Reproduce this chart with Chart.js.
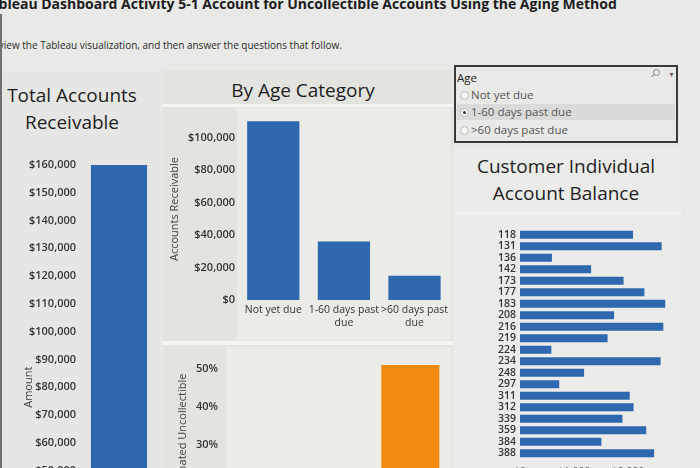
<!DOCTYPE html>
<html>
<head>
<meta charset="utf-8">
<script src="https://cdn.jsdelivr.net/npm/chart.js@4.4.0/dist/chart.umd.min.js"></script>
<style>
  html, body { margin: 0; padding: 0; }
  body {
    width: 700px; height: 468px; overflow: hidden; position: relative;
    background: #e9e9e7; font-family: "Open Sans", sans-serif; color: #222;
  }
  .abs { position: absolute; }
  #pageTitle { left: -18px; top: -6px; font-size: 14px; font-weight: bold; white-space: nowrap; color: #1c1c1c; }
  #pageSub { left: -13px; top: 38px; font-size: 10px; white-space: nowrap; color: #2a2a2a; }
  #edge { left: 0; top: 14px; width: 2px; height: 460px; background: #707070; }
  #leftPanel { left: 2px; top: 72px; width: 159px; height: 400px; background: #e6e6e4; }
  #midPanel { left: 163px; top: 70px; width: 290px; height: 400px; background: #e3e3e0; }
  #midPlot { left: 237px; top: 108px; width: 214px; height: 232px; background: #ebebe8; }
  #midPlot2 { left: 226px; top: 347px; width: 225px; height: 125px; background: #ebebe8; }
  .divider { background: #f4f4f2; }
  #rightPanel { left: 455px; top: 147px; width: 226px; height: 330px; background: #ebebe9; }
  .title { text-align: center; font-size: 19px; line-height: 27px; color: #1e1e1e; }
  #ageBox {
    left: 454px; top: 65px; width: 224px; height: 78px; box-sizing: border-box;
    border: 2px solid #3a3a3a; background: #e9e9e7; font-size: 11.5px;
  }
  #ageBox .head { position: absolute; left: 1px; top: 3px; color: #222; }
  #ageBox .opt { position: absolute; left: 1px; right: 1px; height: 16px; line-height: 16px; color: #555; padding-left: 14px; }
  #ageBox .sel { background: #dadad8; }
  #ageBox .radio {
    position: absolute; left: 3px; top: 4px; width: 7px; height: 7px; border-radius: 50%;
    border: 1px solid #bdbdbd; background: #f3f3f3;
  }
  #ageBox .radio.on::after {
    content: ""; position: absolute; left: 2px; top: 2px; width: 3px; height: 3px; border-radius: 50%; background: #333;
  }
  #lens { left: 653px; top: 69px; width: 5px; height: 5px; border: 1px solid #888; border-radius: 50%; }
  #lensTail { left: 651px; top: 75px; width: 4px; height: 1px; background: #888; transform: rotate(-45deg); }
  #arrow { left: 668px; top: 70px; font-size: 7px; color: #666; }
  canvas { position: absolute; }
</style>
</head>
<body>
<div id="pageTitle" class="abs">Tableau Dashboard Activity 5-1 Account for Uncollectible Accounts Using the Aging Method</div>
<div id="pageSub" class="abs">Review the Tableau visualization, and then answer the questions that follow.</div>
<div id="edge" class="abs"></div>

<div id="leftPanel" class="abs"></div>
<div id="midPanel" class="abs"></div>
<div id="midPlot" class="abs"></div>
<div id="midPlot2" class="abs"></div>
<div class="abs divider" style="left:163px;top:104px;width:290px;height:3px"></div>
<div class="abs divider" style="left:163px;top:341px;width:290px;height:4px"></div>
<div id="rightPanel" class="abs"></div>
<div class="abs divider" style="left:455px;top:212px;width:226px;height:2px"></div>

<div class="abs title" style="left:2px;top:82px;width:140px">Total Accounts<br>Receivable</div>
<div class="abs title" style="left:163px;top:77px;width:280px">By Age Category</div>
<div class="abs title" style="left:455px;top:153px;width:222px">Customer Individual<br>Account Balance</div>

<div id="ageBox" class="abs">
  <div class="head">Age</div>
  <div class="opt" style="top:20px"><span class="radio"></span>Not yet due</div>
  <div class="opt sel" style="top:37px"><span class="radio on"></span>1-60 days past due</div>
  <div class="opt" style="top:55px"><span class="radio"></span>&gt;60 days past due</div>
</div>
<div id="lens" class="abs"></div>
<div id="lensTail" class="abs"></div>
<div id="arrow" class="abs">&#9660;</div>

<canvas id="totalChart" width="158" height="468" style="left:0;top:152px"></canvas>
<canvas id="ageChart" width="292" height="230" style="left:160px;top:105px"></canvas>
<canvas id="pctChart" width="292" height="330" style="left:160px;top:339px"></canvas>
<canvas id="customerChart" width="215" height="268" style="left:460px;top:215px"></canvas>

<script>
// values
const totalLabels = ["Total"];
const totalAmounts = [161000];
const totalTicks = [0, 10000, 20000, 30000, 40000, 50000, 60000, 70000, 80000,
  90000, 100000, 110000, 120000, 130000, 140000, 150000, 160000];

const ageLabels = ["Not yet due", ["1-60 days past", "due"], [">60 days past", "due"]];
const ageAmounts = [110000, 36000, 15000];
const ageTicks = [0, 20000, 40000, 60000, 80000, 100000];

const pctValues = [2, 10, 51];
const pctTicks = [0, 10, 20, 30, 40, 50];

const customerIds = ["118", "131", "136", "142", "173", "177", "183", "208", "216", "219",
  "224", "234", "248", "297", "311", "312", "339", "359", "384", "388"];
const customerBalances = [2090, 2620, 590, 1315, 1915, 2300, 2685, 1740, 2650, 1620,
  580, 2600, 1185, 725, 2030, 2100, 1895, 2335, 1505, 2480];
const balanceTicks = [0, 1000, 2000];

const BLUE = "#2f68ae";
const ORANGE = "#f08a10";

Chart.defaults.font.family = "'Open Sans', sans-serif";
Chart.defaults.color = "#333";

const tickFont = { size: 11, weight: "600" };
const titleFont = { size: 11 };

function money(v) {
  return "$" + Number(v).toLocaleString("en-US");
}

function fixedTicks(list) {
  return function (axis) {
    axis.ticks = list.map(v => ({ value: v }));
  };
}

const basePlugins = { legend: { display: false }, tooltip: { enabled: false } };

new Chart(document.getElementById("totalChart"), {
  type: "bar",
  data: {
    labels: totalLabels,
    datasets: [{ data: totalAmounts, backgroundColor: BLUE, barPercentage: 0.72, categoryPercentage: 1 }],
  },
  options: {
    responsive: false,
    animation: false,
    devicePixelRatio: 1,
    layout: { padding: { top: 13, bottom: 2, right: 0 } },
    scales: {
      x: { display: false },
      y: {
        min: 0,
        max: 160000,
        afterBuildTicks: fixedTicks(totalTicks),
        afterFit: axis => { axis.width = 80; },
        grid: { display: false, drawTicks: false },
        border: { display: false },
        ticks: { font: tickFont, color: "#333", padding: 4, callback: v => money(v) },
        title: { display: true, text: "Amount", font: titleFont, color: "#444", padding: { top: 22, bottom: 0 } },
      },
    },
    plugins: basePlugins,
  },
});

new Chart(document.getElementById("ageChart"), {
  type: "bar",
  data: {
    labels: ageLabels,
    datasets: [{ data: ageAmounts, backgroundColor: BLUE, barPercentage: 0.74, categoryPercentage: 1 }],
  },
  options: {
    responsive: false,
    animation: false,
    devicePixelRatio: 1,
    layout: { padding: { top: 13, right: 0 } },
    scales: {
      x: {
        afterFit: axis => { axis.height = 35; },
        grid: { display: false, drawTicks: false },
        border: { display: false },
        ticks: { font: { size: 10.5 }, color: "#333", padding: 4, maxRotation: 0, autoSkip: false },
      },
      y: {
        min: 0,
        max: 112000,
        afterBuildTicks: fixedTicks(ageTicks),
        afterFit: axis => { axis.width = 78; },
        grid: { display: false, drawTicks: false },
        border: { display: false },
        ticks: { font: tickFont, color: "#333", padding: 3, callback: v => money(v) },
        title: { display: true, text: "Accounts Receivable", font: titleFont, color: "#444", padding: { top: 8, bottom: 0 } },
      },
    },
    plugins: basePlugins,
  },
});

new Chart(document.getElementById("pctChart"), {
  type: "bar",
  data: {
    labels: ageLabels,
    datasets: [{ data: pctValues, backgroundColor: ORANGE, barPercentage: 0.77, categoryPercentage: 1 }],
  },
  options: {
    responsive: false,
    animation: false,
    devicePixelRatio: 1,
    layout: { padding: { top: 5, right: 4 } },
    scales: {
      x: {
        afterFit: axis => { axis.height = 109; },
        grid: { display: false, drawTicks: false },
        border: { display: false },
        ticks: { font: { size: 10.5 }, color: "#333", padding: 4, maxRotation: 0, autoSkip: false },
      },
      y: {
        min: 0,
        max: 55,
        afterBuildTicks: fixedTicks(pctTicks),
        afterFit: axis => { axis.width = 62; },
        grid: { display: false, drawTicks: false },
        border: { display: false },
        ticks: { font: tickFont, color: "#333", padding: 4, callback: v => v + "%" },
        title: { display: true, text: "Percent Estimated Uncollectible", font: titleFont, color: "#444", padding: { top: 16, bottom: 0 } },
      },
    },
    plugins: basePlugins,
  },
});

new Chart(document.getElementById("customerChart"), {
  type: "bar",
  data: {
    labels: customerIds,
    datasets: [{ data: customerBalances, backgroundColor: BLUE, barPercentage: 0.7, categoryPercentage: 1 }],
  },
  options: {
    indexAxis: "y",
    responsive: false,
    animation: false,
    devicePixelRatio: 1,
    layout: { padding: { top: 14, right: 9 } },
    scales: {
      x: {
        min: 0,
        max: 2700,
        afterBuildTicks: fixedTicks(balanceTicks),
        afterFit: axis => { axis.height = 24; },
        grid: { display: false, drawTicks: false },
        border: { display: false },
        ticks: { font: { size: 10.5 }, color: "#555", padding: 7, callback: v => money(v) },
      },
      y: {
        afterFit: axis => { axis.width = 60; },
        grid: { display: false, drawTicks: false },
        border: { display: false },
        ticks: { font: { size: 10.5, weight: "600" }, color: "#333", padding: 4, autoSkip: false },
      },
    },
    plugins: basePlugins,
  },
});
</script>
</body>
</html>
